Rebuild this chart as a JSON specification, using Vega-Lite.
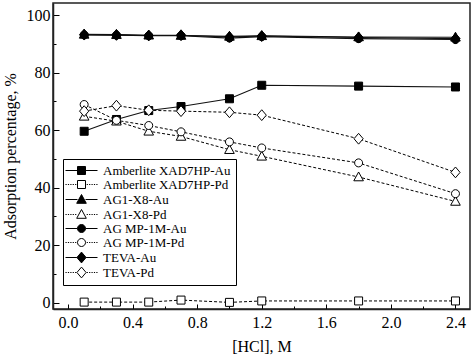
{
  "$schema": "https://vega.github.io/schema/vega-lite/v6.json",
  "width": 417,
  "height": 306,
  "autosize": "none",
  "padding": {"left": 53, "top": 3, "right": 4, "bottom": 49},
  "background": "white",
  "config": {
    "view": {"stroke": "#222", "strokeWidth": 1.5},
    "axis": {"grid": false, "domainColor": "#222", "domainWidth": 1.5, "tickColor": "black", "labelFont": "Liberation Serif", "labelFontSize": 16, "labelColor": "black", "titleFont": "Liberation Serif", "titleFontSize": 16, "titleFontWeight": "normal", "titleColor": "black"},
    "legend": {"labelFont": "Liberation Serif", "labelFontSize": 13, "labelColor": "black", "labelLimit": 300, "symbolSize": 64, "rowPadding": 0, "padding": 5, "symbolOffset": 7, "labelOffset": 15, "strokeColor": "black", "fillColor": "white"}
  },
  "data": {"values": [
    {"x": 0.1, "series": "Amberlite XAD7HP-Au", "v": 59.6},
    {"x": 0.3, "series": "Amberlite XAD7HP-Au", "v": 63.7},
    {"x": 0.5, "series": "Amberlite XAD7HP-Au", "v": 66.8},
    {"x": 0.7, "series": "Amberlite XAD7HP-Au", "v": 68.2},
    {"x": 1.0, "series": "Amberlite XAD7HP-Au", "v": 70.9},
    {"x": 1.2, "series": "Amberlite XAD7HP-Au", "v": 75.6},
    {"x": 1.8, "series": "Amberlite XAD7HP-Au", "v": 75.3},
    {"x": 2.4, "series": "Amberlite XAD7HP-Au", "v": 75.0},
    {"x": 0.1, "series": "Amberlite XAD7HP-Pd", "v": 0.2},
    {"x": 0.3, "series": "Amberlite XAD7HP-Pd", "v": 0.2},
    {"x": 0.5, "series": "Amberlite XAD7HP-Pd", "v": 0.2},
    {"x": 0.7, "series": "Amberlite XAD7HP-Pd", "v": 0.9},
    {"x": 1.0, "series": "Amberlite XAD7HP-Pd", "v": 0.1},
    {"x": 1.2, "series": "Amberlite XAD7HP-Pd", "v": 0.6},
    {"x": 1.8, "series": "Amberlite XAD7HP-Pd", "v": 0.6},
    {"x": 2.4, "series": "Amberlite XAD7HP-Pd", "v": 0.6},
    {"x": 0.1, "series": "AG1-X8-Au", "v": 93.3},
    {"x": 0.3, "series": "AG1-X8-Au", "v": 93.2},
    {"x": 0.5, "series": "AG1-X8-Au", "v": 93.0},
    {"x": 0.7, "series": "AG1-X8-Au", "v": 92.9},
    {"x": 1.0, "series": "AG1-X8-Au", "v": 92.6},
    {"x": 1.2, "series": "AG1-X8-Au", "v": 92.8},
    {"x": 1.8, "series": "AG1-X8-Au", "v": 92.4},
    {"x": 2.4, "series": "AG1-X8-Au", "v": 92.3},
    {"x": 0.1, "series": "AG1-X8-Pd", "v": 64.8},
    {"x": 0.3, "series": "AG1-X8-Pd", "v": 63.1},
    {"x": 0.5, "series": "AG1-X8-Pd", "v": 59.6},
    {"x": 0.7, "series": "AG1-X8-Pd", "v": 57.8},
    {"x": 1.0, "series": "AG1-X8-Pd", "v": 53.2},
    {"x": 1.2, "series": "AG1-X8-Pd", "v": 50.9},
    {"x": 1.8, "series": "AG1-X8-Pd", "v": 43.7},
    {"x": 2.4, "series": "AG1-X8-Pd", "v": 35.2},
    {"x": 0.1, "series": "AG MP-1M-Au", "v": 93.1},
    {"x": 0.3, "series": "AG MP-1M-Au", "v": 93.0},
    {"x": 0.5, "series": "AG MP-1M-Au", "v": 92.8},
    {"x": 0.7, "series": "AG MP-1M-Au", "v": 92.8},
    {"x": 1.0, "series": "AG MP-1M-Au", "v": 92.0},
    {"x": 1.2, "series": "AG MP-1M-Au", "v": 92.5},
    {"x": 1.8, "series": "AG MP-1M-Au", "v": 91.8},
    {"x": 2.4, "series": "AG MP-1M-Au", "v": 91.5},
    {"x": 0.1, "series": "AG MP-1M-Pd", "v": 68.9},
    {"x": 0.3, "series": "AG MP-1M-Pd", "v": 63.4},
    {"x": 0.5, "series": "AG MP-1M-Pd", "v": 61.6},
    {"x": 0.7, "series": "AG MP-1M-Pd", "v": 59.4},
    {"x": 1.0, "series": "AG MP-1M-Pd", "v": 55.9},
    {"x": 1.2, "series": "AG MP-1M-Pd", "v": 53.8},
    {"x": 1.8, "series": "AG MP-1M-Pd", "v": 48.6},
    {"x": 2.4, "series": "AG MP-1M-Pd", "v": 37.9},
    {"x": 0.1, "series": "TEVA-Au", "v": 93.2},
    {"x": 0.3, "series": "TEVA-Au", "v": 93.1},
    {"x": 0.5, "series": "TEVA-Au", "v": 92.9},
    {"x": 0.7, "series": "TEVA-Au", "v": 93.0},
    {"x": 1.0, "series": "TEVA-Au", "v": 92.4},
    {"x": 1.2, "series": "TEVA-Au", "v": 92.7},
    {"x": 1.8, "series": "TEVA-Au", "v": 92.2},
    {"x": 2.4, "series": "TEVA-Au", "v": 91.8},
    {"x": 0.1, "series": "TEVA-Pd", "v": 66.6},
    {"x": 0.3, "series": "TEVA-Pd", "v": 68.5},
    {"x": 0.5, "series": "TEVA-Pd", "v": 66.9},
    {"x": 0.7, "series": "TEVA-Pd", "v": 66.6},
    {"x": 1.0, "series": "TEVA-Pd", "v": 66.2},
    {"x": 1.2, "series": "TEVA-Pd", "v": 65.2},
    {"x": 1.8, "series": "TEVA-Pd", "v": 57.0},
    {"x": 2.4, "series": "TEVA-Pd", "v": 45.3}
  ]},
  "encoding": {
    "x": {"field": "x", "type": "quantitative", "title": "[HCl], M",
      "scale": {"domain": [-0.093, 2.49], "nice": false, "zero": false},
      "axis": {"values": [0, 0.2, 0.4, 0.6, 0.8, 1.0, 1.2, 1.4, 1.6, 1.8, 2.0, 2.2, 2.4],
        "labelExpr": "round(datum.value*10) % 4 === 0 ? format(datum.value, '.1f') : ''",
        "labelFont": "Liberation Serif", "labelFontSize": 16,
        "tickSize": {"condition": {"test": "round(datum.value*10) % 4 === 0", "value": -5}, "value": -3},
        "labelPadding": 10, "titlePadding": 8, "labelFlush": false}},
    "y": {"field": "v", "type": "quantitative", "title": "Adsorption percentage, %",
      "scale": {"domain": [-2.2, 104.2], "nice": false, "zero": false},
      "axis": {"values": [0, 10, 20, 30, 40, 50, 60, 70, 80, 90, 100],
        "labelExpr": "datum.value % 20 === 0 ? datum.label : ''",
        "labelFont": "Liberation Serif", "labelFontSize": 16,
        "tickSize": {"condition": {"test": "datum.value % 20 === 0", "value": -6}, "value": -3},
        "labelPadding": 9, "titlePadding": 8, "labelFlush": false}}
  },
  "layer": [
    {
      "transform": [{"filter": "indexof(datum.series, '-Au') >= 0"}],
      "mark": {"type": "line", "color": "#111", "strokeWidth": 1.1},
      "encoding": {"detail": {"field": "series"}}
    },
    {
      "transform": [{"filter": "indexof(datum.series, '-Pd') >= 0"}],
      "mark": {"type": "line", "color": "black", "strokeWidth": 1, "strokeDash": [3, 2]},
      "encoding": {"detail": {"field": "series"}}
    },
    {
      "mark": {"type": "point", "filled": true, "strokeWidth": 1, "opacity": 1, "size": 64},
      "encoding": {
        "shape": {"field": "series", "type": "nominal", "legend": null,
          "scale": {"domain": ["Amberlite XAD7HP-Au", "Amberlite XAD7HP-Pd", "AG1-X8-Au", "AG1-X8-Pd", "AG MP-1M-Au", "AG MP-1M-Pd", "TEVA-Au", "TEVA-Pd"],
            "range": ["M-1,-1H1V1H-1Z", "M-1,-1H1V1H-1Z", "M0,-1.25L1.2,0.95L-1.2,0.95Z", "M0,-1.25L1.2,0.95L-1.2,0.95Z", "M1,0A1,1,0,1,1,-1,0A1,1,0,1,1,1,0Z", "M1,0A1,1,0,1,1,-1,0A1,1,0,1,1,1,0Z", "M0,-1.35L1.15,0L0,1.35L-1.15,0Z", "M0,-1.35L1.15,0L0,1.35L-1.15,0Z"]}},
        "fill": {"field": "series", "type": "nominal", "legend": null,
          "scale": {"domain": ["Amberlite XAD7HP-Au", "Amberlite XAD7HP-Pd", "AG1-X8-Au", "AG1-X8-Pd", "AG MP-1M-Au", "AG MP-1M-Pd", "TEVA-Au", "TEVA-Pd"],
            "range": ["black", "white", "black", "white", "black", "white", "black", "white"]}},
        "stroke": {"field": "series", "type": "nominal",
          "sort": ["Amberlite XAD7HP-Au", "Amberlite XAD7HP-Pd", "AG1-X8-Au", "AG1-X8-Pd", "AG MP-1M-Au", "AG MP-1M-Pd", "TEVA-Au", "TEVA-Pd"],
          "scale": {"range": ["black", "black", "black", "black", "black", "black", "black", "black"]},
          "legend": {"title": null, "orient": "none", "legendX": 10, "legendY": 156,
            "encoding": {"symbols": {
              "shape": {"value": {"expr": "['M-4,0H-1M1,0H4M-1,-1H1V1H-1Z', 'M-4,0H-3.7M-3.4,0H-3.1M-2.8,0H-2.5M-2.2,0H-1.9M-1.6,0H-1.3M1.3,0H1.6M1.9,0H2.2M2.5,0H2.8M3.1,0H3.4M3.7,0H4M-1,-1H1V1H-1Z', 'M-4,0H-1M1,0H4M0,-1.25L1.2,0.95L-1.2,0.95Z', 'M-4,0H-3.7M-3.4,0H-3.1M-2.8,0H-2.5M-2.2,0H-1.9M-1.6,0H-1.3M1.3,0H1.6M1.9,0H2.2M2.5,0H2.8M3.1,0H3.4M3.7,0H4M0,-1.25L1.2,0.95L-1.2,0.95Z', 'M-4,0H-1M1,0H4M1,0A1,1,0,1,1,-1,0A1,1,0,1,1,1,0Z', 'M-4,0H-3.7M-3.4,0H-3.1M-2.8,0H-2.5M-2.2,0H-1.9M-1.6,0H-1.3M1.3,0H1.6M1.9,0H2.2M2.5,0H2.8M3.1,0H3.4M3.7,0H4M1,0A1,1,0,1,1,-1,0A1,1,0,1,1,1,0Z', 'M-4,0H-1.15M1.15,0H4M0,-1.35L1.15,0L0,1.35L-1.15,0Z', 'M-4,0H-3.7M-3.4,0H-3.1M-2.8,0H-2.5M-2.2,0H-1.9M-1.6,0H-1.3M1.3,0H1.6M1.9,0H2.2M2.5,0H2.8M3.1,0H3.4M3.7,0H4M0,-1.35L1.15,0L0,1.35L-1.15,0Z'][indexof(['Amberlite XAD7HP-Au', 'Amberlite XAD7HP-Pd', 'AG1-X8-Au', 'AG1-X8-Pd', 'AG MP-1M-Au', 'AG MP-1M-Pd', 'TEVA-Au', 'TEVA-Pd'], datum.value)]"}},
              "fill": {"value": {"expr": "indexof(datum.value, '-Au') >= 0 ? 'black' : 'white'"}},
              "strokeWidth": {"value": 1},
              "opacity": {"value": 1},
              "size": {"value": 64}
            }}
          }
        }
      }
    }
  ]
}
